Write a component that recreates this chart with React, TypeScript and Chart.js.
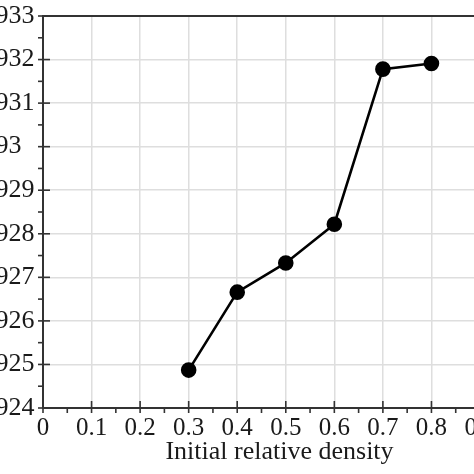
import React, { useEffect, useRef } from "react";
import { Chart, registerables } from "chart.js";

Chart.register(...registerables);

// ---- data ----
const densities = [0.3, 0.4, 0.5, 0.6, 0.7, 0.8];
const values = [0.92487, 0.92666, 0.92733, 0.92822, 0.93178, 0.93191];
const xMin = 0;
const xMax = 0.9;
const xStep = 0.1;
const yMin = 0.924;
const yMax = 0.933;
const yStep = 0.001;
const xAxisTitle = "Initial relative density";

// ---- layout ----
const OFF = 24; // canvas shifted left so the leading "0." of y labels is cropped
const CW = 524;
const CH = 474;
const FONT = '"Liberation Serif", "Times New Roman", serif';
const AXIS = "#333333";
const GRID = "#dedede";

const decorPlugin = {
  id: "decor",
  afterDraw(chart: any) {
    const { ctx, chartArea: a, scales } = chart;
    const xs = scales.x;
    const ys = scales.y;
    ctx.save();
    // top and right frame
    ctx.strokeStyle = AXIS;
    ctx.lineWidth = 2;
    ctx.beginPath();
    ctx.moveTo(a.left, a.top);
    ctx.lineTo(a.right, a.top);
    ctx.lineTo(a.right, a.bottom);
    ctx.stroke();

    // tick marks
    ctx.lineWidth = 1.6;
    const xt = xs.ticks.map((t: any) => t.value);
    xt.forEach((v: number, i: number) => {
      const px = xs.getPixelForValue(v);
      ctx.beginPath();
      ctx.moveTo(px, a.bottom - 7);
      ctx.lineTo(px, a.bottom + 5);
      ctx.stroke();
      if (i < xt.length - 1) {
        const mx = xs.getPixelForValue((v + xt[i + 1]) / 2);
        ctx.beginPath();
        ctx.moveTo(mx, a.bottom);
        ctx.lineTo(mx, a.bottom + 5);
        ctx.stroke();
      }
    });
    const yt = ys.ticks.map((t: any) => t.value);
    yt.forEach((v: number, i: number) => {
      const py = ys.getPixelForValue(v);
      ctx.beginPath();
      ctx.moveTo(a.left - 5, py);
      ctx.lineTo(a.left + 7, py);
      ctx.stroke();
      if (i < yt.length - 1) {
        const my = ys.getPixelForValue((v + yt[i + 1]) / 2);
        ctx.beginPath();
        ctx.moveTo(a.left - 5, my);
        ctx.lineTo(a.left, my);
        ctx.stroke();
      }
    });

    // x axis title
    ctx.fillStyle = "#1a1a1a";
    ctx.font = `26px ${FONT}`;
    ctx.textAlign = "center";
    ctx.textBaseline = "alphabetic";
    ctx.fillText(xAxisTitle, (a.left + a.right) / 2 + 18, a.bottom + 51);
    ctx.restore();
  },
};

export default function App() {
  const ref = useRef<HTMLCanvasElement | null>(null);

  useEffect(() => {
    if (!ref.current) return;
    const chart = new Chart(ref.current, {
      type: "line",
      data: {
        datasets: [
          {
            data: densities.map((d, i) => ({ x: d, y: values[i] })),
            borderColor: "#000",
            backgroundColor: "#000",
            borderWidth: 2.6,
            pointRadius: 6.5,
            pointHoverRadius: 6.5,
            pointBackgroundColor: "#000",
            pointBorderColor: "#000",
            tension: 0,
          },
        ],
      },
      plugins: [decorPlugin],
      options: {
        animation: false,
        responsive: false,
        events: [],
        layout: { padding: { top: 16, right: 20, left: 0, bottom: 0 } },
        plugins: { legend: { display: false }, tooltip: { enabled: false } },
        scales: {
          x: {
            type: "linear",
            min: xMin,
            max: xMax,
            afterFit: (s: any) => {
              s.height = 66;
              s.paddingLeft = 0;
              s.paddingRight = 0;
            },
            ticks: {
              stepSize: xStep,
              color: "#1a1a1a",
              font: { family: FONT, size: 25 },
              padding: 5,
              maxRotation: 0,
              autoSkip: false,
              callback: (v: any) => String(Number(Number(v).toFixed(2))),
            },
            grid: { color: GRID, lineWidth: 1.5, drawTicks: false },
            border: { color: AXIS, width: 2 },
          },
          y: {
            type: "linear",
            min: yMin,
            max: yMax,
            afterFit: (s: any) => {
              s.width = 67;
              s.paddingTop = 0;
              s.paddingBottom = 0;
            },
            ticks: {
              stepSize: yStep,
              color: "#1a1a1a",
              font: { family: FONT, size: 26 },
              padding: 8,
              crossAlign: "far",
              autoSkip: false,
              callback: (v: any) => String(Number(Number(v).toFixed(4))),
            },
            grid: { color: GRID, lineWidth: 1.5, drawTicks: false },
            border: { color: AXIS, width: 2 },
          },
        },
      },
    });
    return () => chart.destroy();
  }, []);

  return (
    <div
      style={{
        position: "fixed",
        left: 0,
        top: 0,
        width: 474,
        height: 474,
        overflow: "hidden",
        background: "#fff",
      }}
    >
      <canvas
        ref={ref}
        width={CW}
        height={CH}
        style={{ position: "absolute", left: -OFF, top: 0, width: CW, height: CH }}
      />
    </div>
  );
}
